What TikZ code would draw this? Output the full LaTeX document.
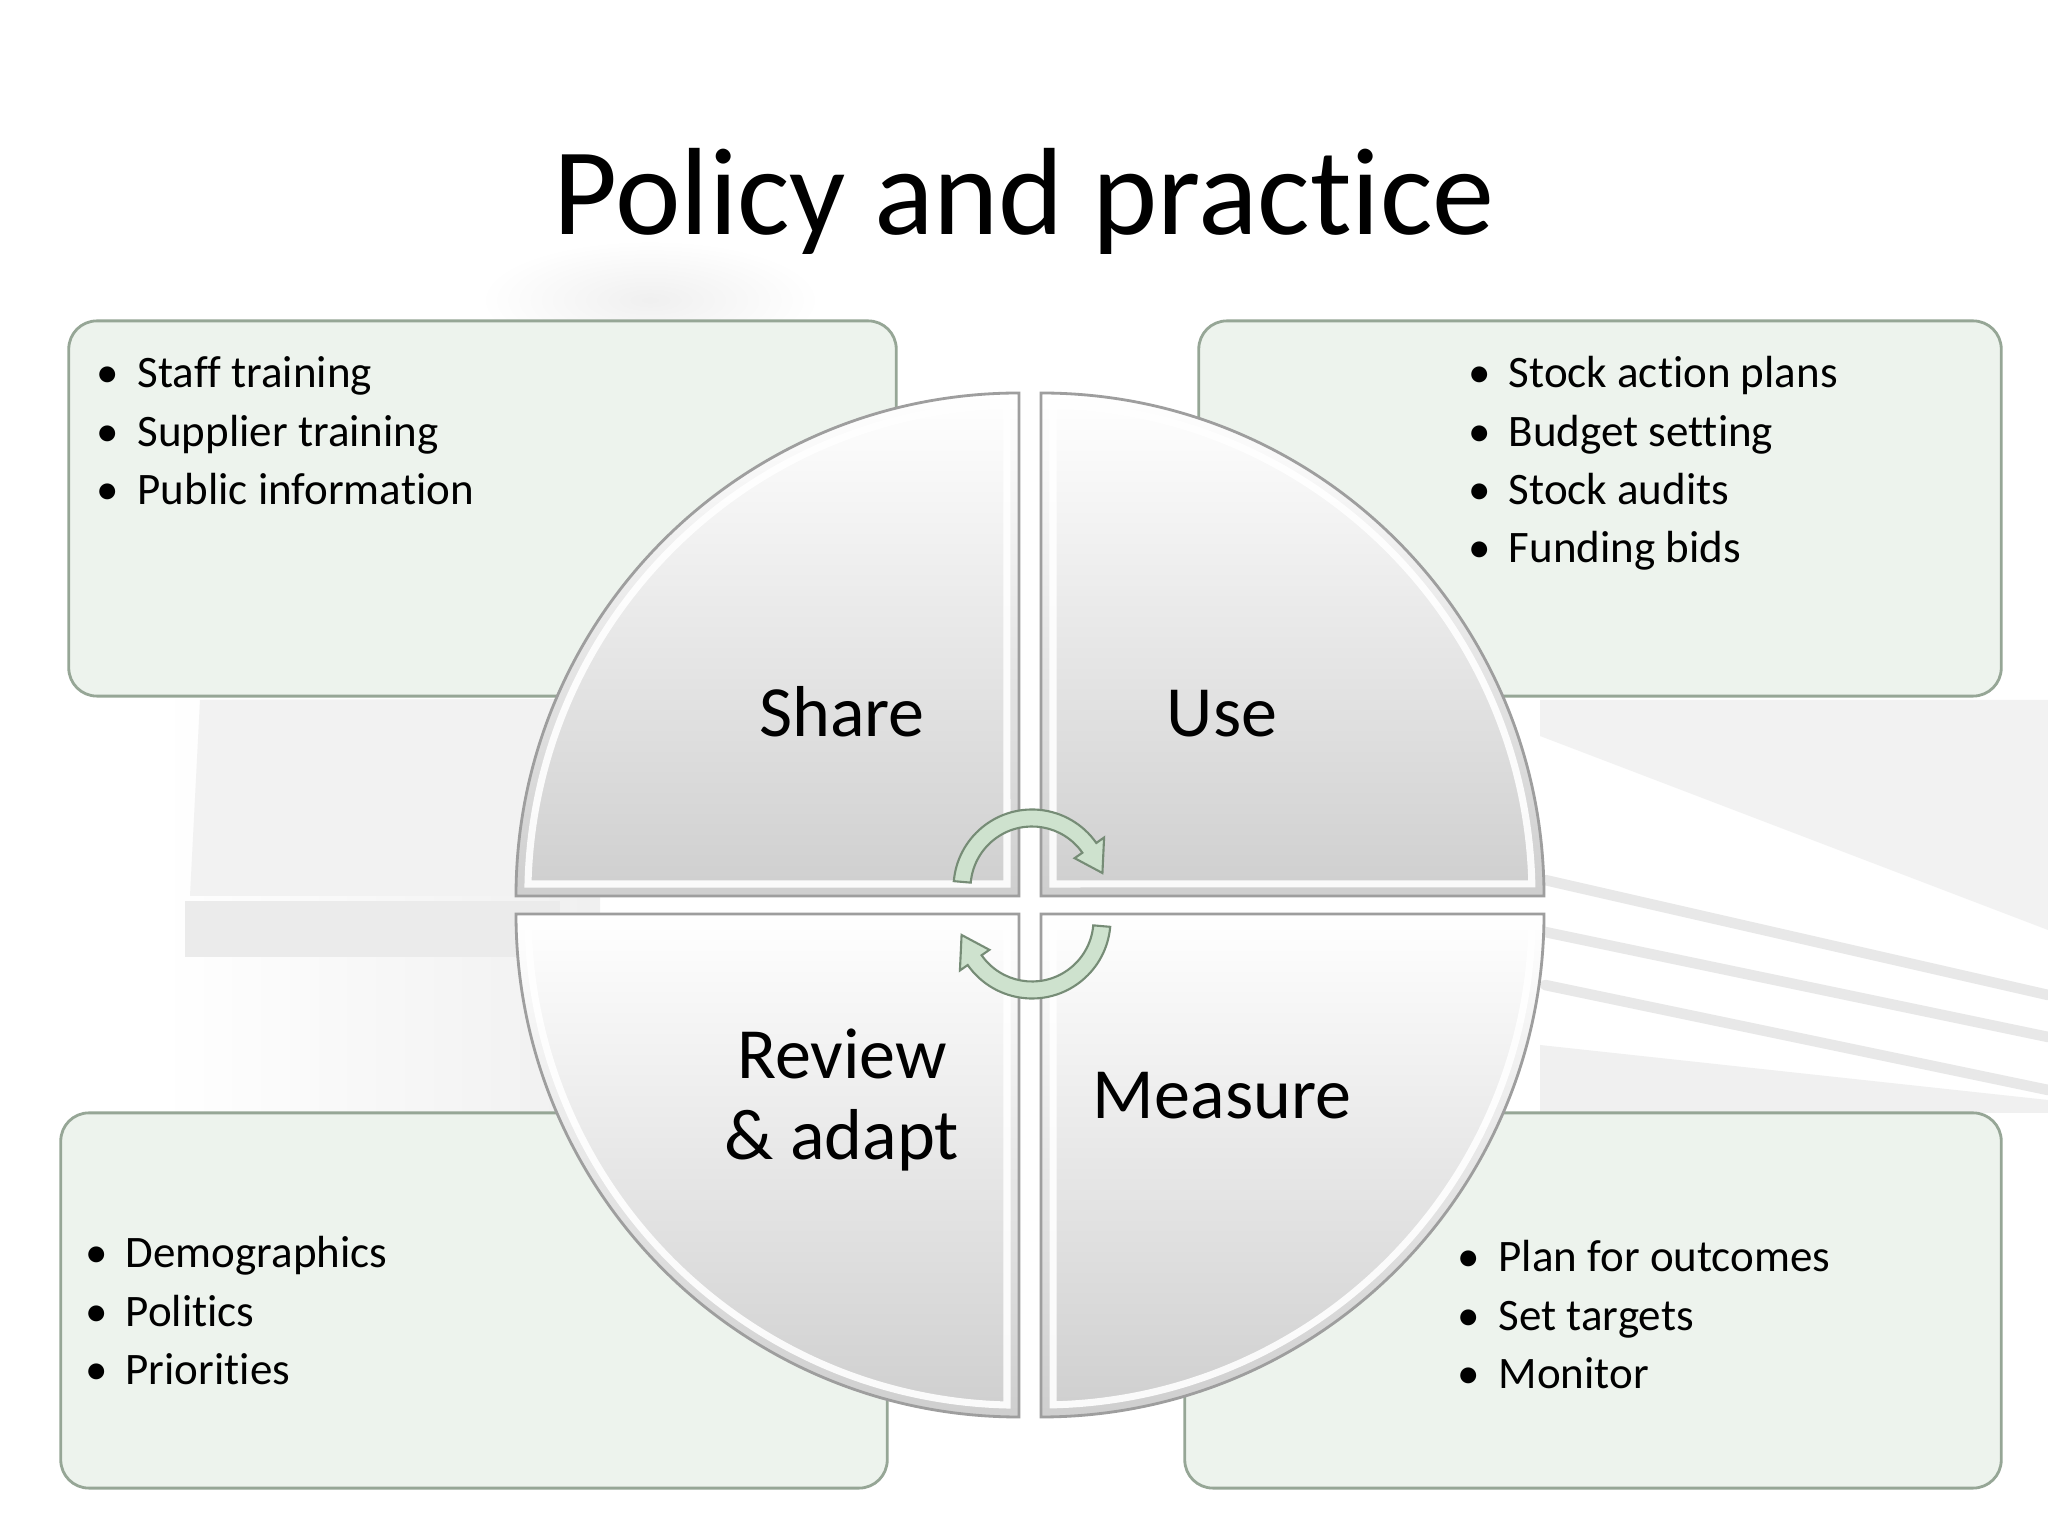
\documentclass[tikz,border=0pt]{standalone}
\usepackage{fontspec}
\setmainfont{Carlito}[Ligatures={NoCommon}]
\usetikzlibrary{calc}
\definecolor{boxfill}{RGB}{237,243,237}
\definecolor{boxline}{RGB}{150,166,150}
\definecolor{arrfill}{RGB}{206,226,206}
\definecolor{arrline}{RGB}{118,140,118}
\tikzset{
  infobox/.style={draw=boxline, fill=boxfill, line width=0.8pt, rounded corners=8pt, inner sep=0pt},
  quad/.style={top color=white, bottom color=black!19, draw=black!38, line width=0.8pt},
  bevel/.style={draw=white, line width=2pt, opacity=0.9},
  cyc/.style={fill=arrfill, draw=arrline, line width=0.6pt},
  listtext/.style={inner sep=0pt, font=\fontsize{12.8pt}{16.5pt}\selectfont},
  quadlabel/.style={inner sep=0pt, font=\fontsize{20.5pt}{23pt}\selectfont},
  titletext/.style={inner sep=0pt, font=\fontsize{35.3pt}{40pt}\selectfont},
  streak/.style={draw=black!9, line width=3pt, line cap=round}
}
\begin{document}
\begin{tikzpicture}[x=0.01cm,y=0.01cm]
\useasboundingbox (0,0) rectangle (2048,1536);
\fill[white] (0,0) rectangle (2048,1536);
% faint background photo
\shade[left color=white, right color=black!6] (160,423) rectangle (600,836);
\fill[black!5] (190,640) -- (560,640) -- (560,836) -- (200,836) -- cycle;
\fill[black!8] (185,579) rectangle (560,635);
\shade[inner color=black!6, outer color=white] (650,1236) ellipse [x radius=170, y radius=60];
\fill[black!5] (1540,836) -- (2048,836) -- (2048,606) -- (1540,800) -- cycle;
\draw[streak] (1545,656) -- (2048,541);
\draw[streak] (1545,604) -- (2048,499);
\draw[streak] (1545,551) -- (2048,446);
\fill[black!6] (1540,491) -- (2048,436) -- (2048,423) -- (1540,423) -- cycle;

% title
\node[titletext, anchor=base] (title) at (1024,1301) {Policy and practice};

% boxes
\node[infobox, minimum width=8.27cm, minimum height=3.75cm] (tl) at (482.5,1027.5) {};
\node[infobox, minimum width=8.02cm, minimum height=3.75cm] (tr) at (1600,1027.5) {};
\node[infobox, minimum width=8.26cm, minimum height=3.75cm] (bl) at (474,235.5) {};
\node[infobox, minimum width=8.16cm, minimum height=3.75cm] (br) at (1593,235.5) {};

% lists
\node[listtext, anchor=base] (tlb) at (108,1148) {\begin{tabular}[t]{@{}c@{}}•\\•\\•\end{tabular}};
\node[listtext, anchor=base west] (tlt) at (137,1148) {\begin{tabular}[t]{@{}l@{}}Staff training\\Supplier training\\Public information\end{tabular}};
\node[listtext, anchor=base] (trb) at (1480,1148) {\begin{tabular}[t]{@{}c@{}}•\\•\\•\\•\end{tabular}};
\node[listtext, anchor=base west] (trt) at (1508,1148) {\begin{tabular}[t]{@{}l@{}}Stock action plans\\Budget setting\\Stock audits\\Funding bids\end{tabular}};
\node[listtext, anchor=base] (blb) at (97,268) {\begin{tabular}[t]{@{}c@{}}•\\•\\•\end{tabular}};
\node[listtext, anchor=base west] (blt) at (125,268) {\begin{tabular}[t]{@{}l@{}}Demographics\\Politics\\Priorities\end{tabular}};
\node[listtext, anchor=base] (brb) at (1469,264) {\begin{tabular}[t]{@{}c@{}}•\\•\\•\end{tabular}};
\node[listtext, anchor=base west] (brt) at (1498,264) {\begin{tabular}[t]{@{}l@{}}Plan for outcomes\\Set targets\\Monitor\end{tabular}};

% quadrants
\path[quad] (1019,640) -- (516,640) arc[start angle=180,end angle=90,radius=503] -- cycle;
\path[quad] (1041,640) -- (1041,1143) arc[start angle=90,end angle=0,radius=503] -- cycle;
\path[quad] (1019,622) -- (1019,119) arc[start angle=270,end angle=180,radius=503] -- cycle;
\path[quad] (1041,622) -- (1544,622) arc[start angle=0,end angle=-90,radius=503] -- cycle;
% bevel highlights
\draw[bevel] (1007,652) -- (528,652) arc[start angle=178.6,end angle=91.4,radius=491] -- cycle;
\draw[bevel] (1053,652) -- (1053,1131) arc[start angle=88.6,end angle=1.4,radius=491] -- cycle;
\draw[bevel] (1007,610) -- (1007,131) arc[start angle=268.6,end angle=181.4,radius=491] -- cycle;
\draw[bevel] (1053,610) -- (1532,610) arc[start angle=-1.4,end angle=-88.6,radius=491] -- cycle;

% quadrant labels
\node[quadlabel, anchor=base] (share) at (842,799) {Share};
\node[quadlabel, anchor=base] (use) at (1222,799) {Use};
\node[quadlabel, anchor=base] (review) at (842,457) {Review};
\node[quadlabel, anchor=base] (adapt) at (842,376) {\&~adapt};
\node[quadlabel, anchor=base] (measure) at (1222,417) {Measure};

% cycle arrows
\coordinate (c1) at (1032,648);
\coordinate (c2) at (1032,616);
\path[cyc] ($(c1)+(175:78.5)$) arc[start angle=175,end angle=35,radius=78.5]
  -- ($(c1)+(35:88)$) -- ($(c1)+(12:72)$) -- ($(c1)+(35:52)$)
  -- ($(c1)+(35:61.5)$) arc[start angle=35,end angle=175,radius=61.5] -- cycle;
\path[cyc] ($(c2)+(-5:78.5)$) arc[start angle=-5,end angle=-145,radius=78.5]
  -- ($(c2)+(-145:88)$) -- ($(c2)+(-168:72)$) -- ($(c2)+(-145:52)$)
  -- ($(c2)+(-145:61.5)$) arc[start angle=-145,end angle=-5,radius=61.5] -- cycle;
\end{tikzpicture}
\end{document}
